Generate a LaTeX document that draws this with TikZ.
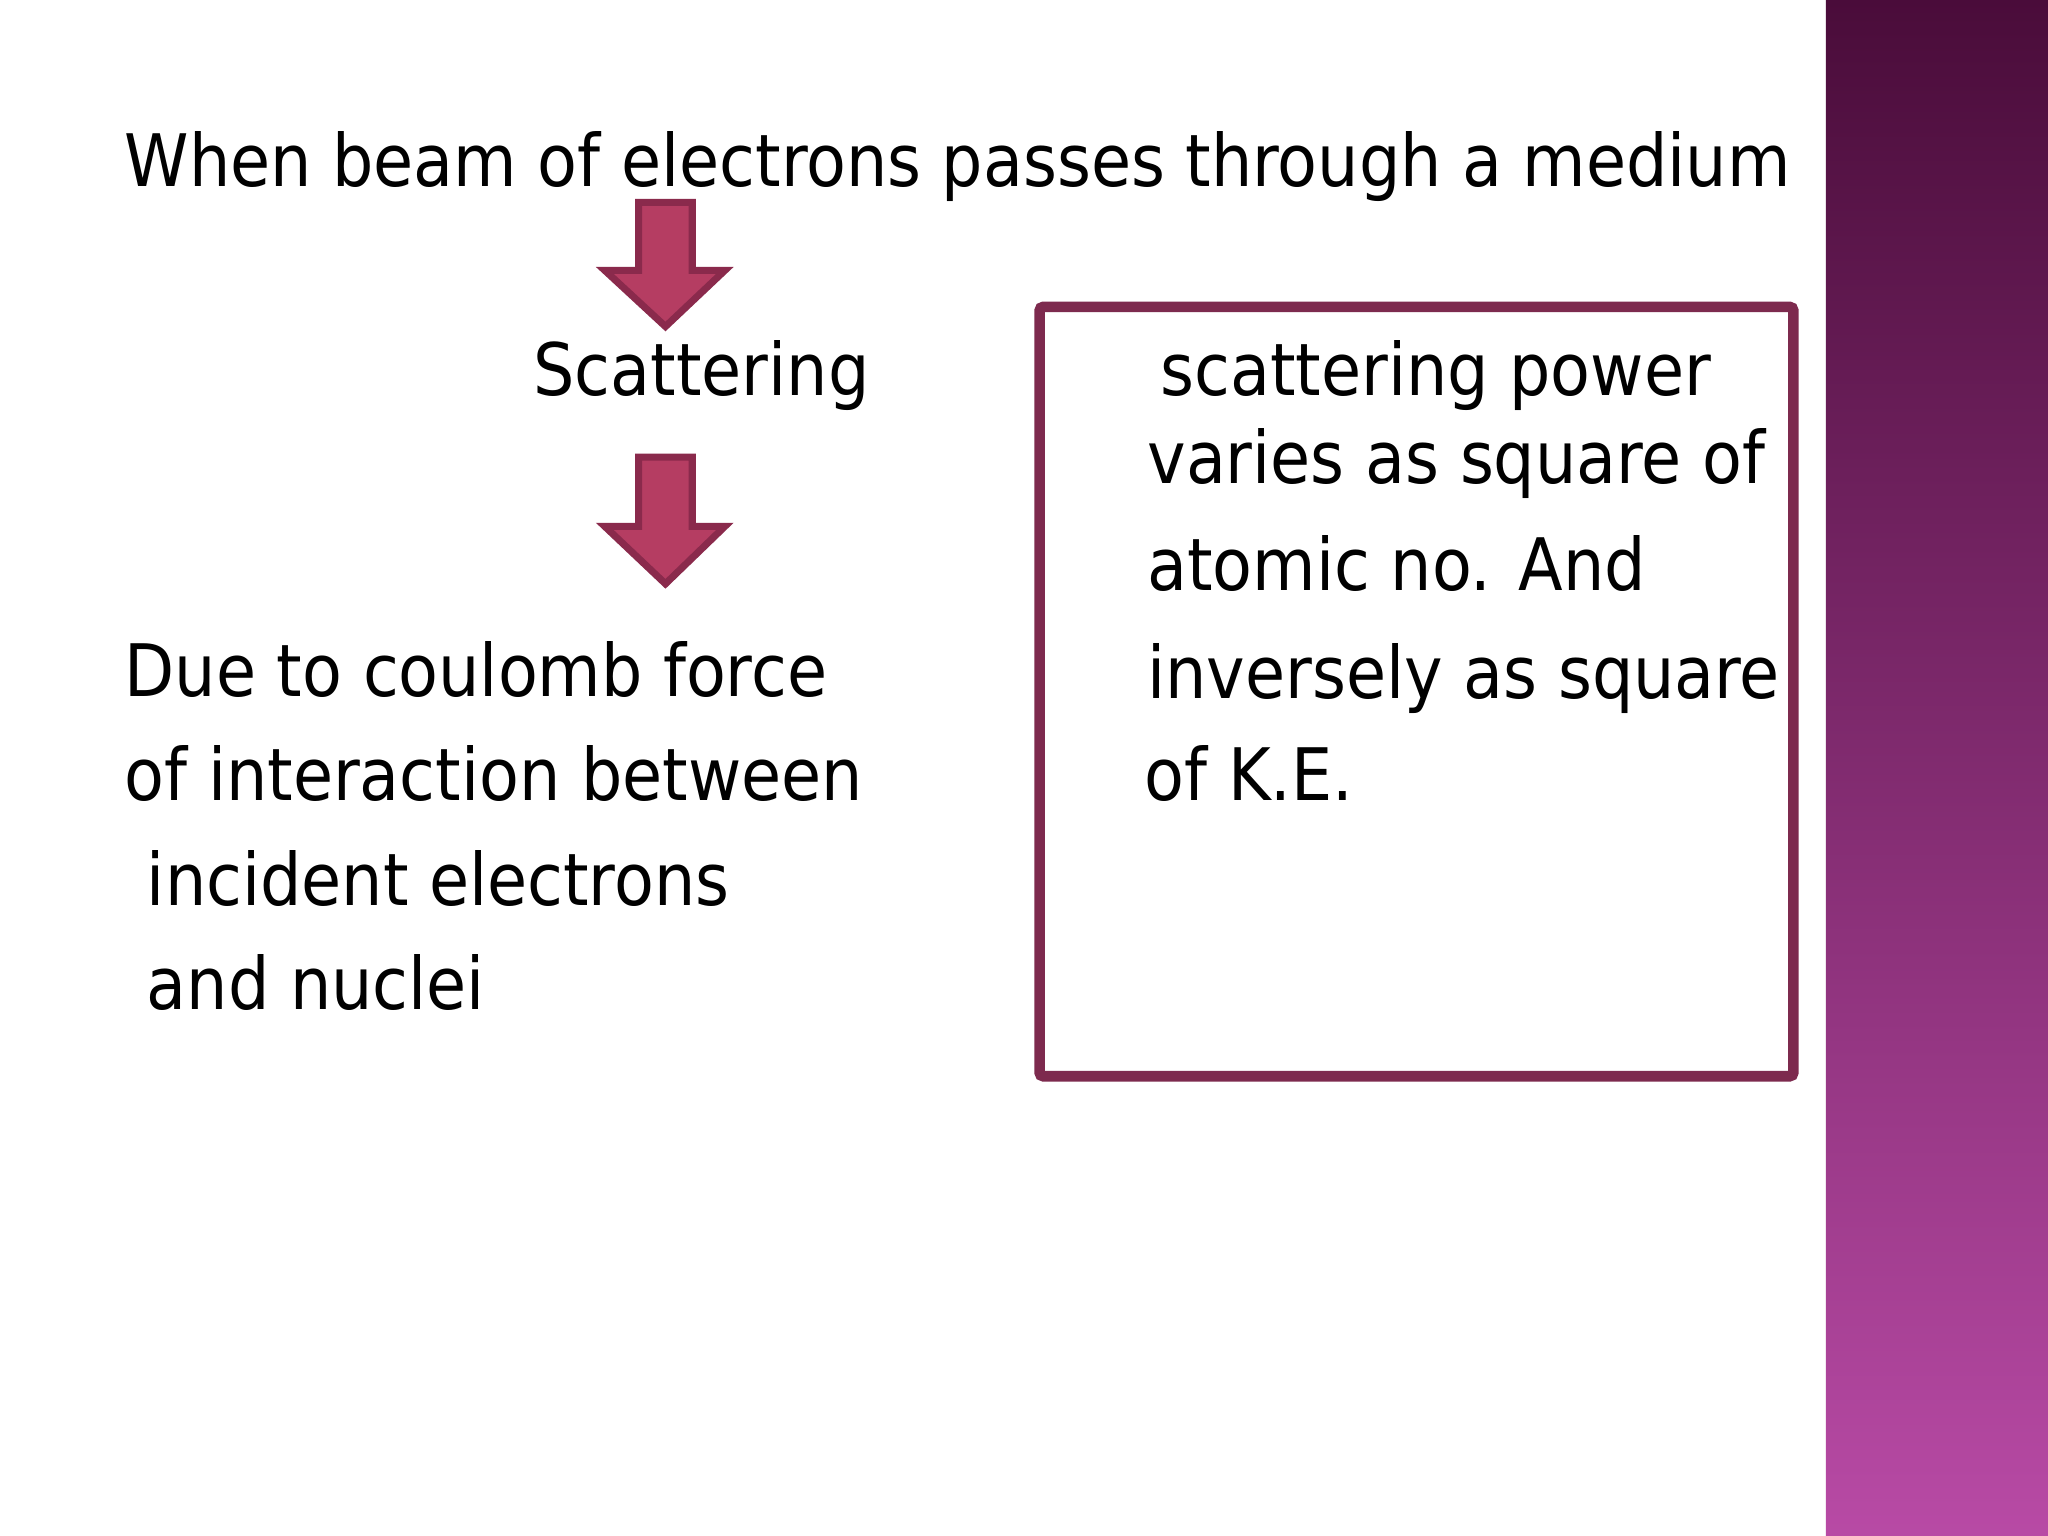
\documentclass[tikz,border=0pt]{standalone}
\usepackage{fontspec}
\setmainfont{DejaVu Sans Condensed}
\definecolor{arrfill}{HTML}{B53D62}
\definecolor{arrdraw}{HTML}{8A2A4C}
\definecolor{boxc}{HTML}{7D2A4E}
\definecolor{bartop}{HTML}{4A0C3A}
\definecolor{barbot}{HTML}{B84AA5}
\tikzset{txt/.style={anchor=base west,inner sep=0pt,font=\fontsize{20.6}{25}\selectfont},
 bigarrow/.style={fill=arrfill,draw=arrdraw,line width=2pt,line join=miter}}
\begin{document}
\begin{tikzpicture}[x=0.01306cm,y=-0.01306cm]
\useasboundingbox (0,0) rectangle (1568,1176);
\fill[white] (0,0) rectangle (1568,1176);
\shade[top color=bartop,bottom color=barbot] (1398,0) rectangle (1568,1176);
\node[txt] (title) at (95,143) {When beam of electrons passes through a medium};
\node[txt] (scat) at (408,303) {Scattering};
\node[txt] (d1) at (95,533) {Due to coulomb force};
\node[txt] (d2) at (95,613) {of interaction between};
\node[txt] (d3) at (112,693) {incident electrons};
\node[txt] (d4) at (112,773) {and nuclei};
\draw[bigarrow] (489,155) -- (530,155) -- (530,207) -- (555,207) -- (509.5,250) -- (463,207) -- (489,207) -- cycle;
\draw[bigarrow] (489,350) -- (530,350) -- (530,403) -- (555,403) -- (509.5,447) -- (463,403) -- (489,403) -- cycle;
\draw[boxc,line width=3pt,rounded corners=1pt] (796,235) rectangle (1373,824);
\node[txt] (b1) at (888,303) {scattering power};
\node[txt] (b2) at (878,370) {varies as square of};
\node[txt] (b3) at (878,452) {atomic no. And};
\node[txt] (b4) at (878,535) {inversely as square};
\node[txt] (b5) at (876,613) {of K.E.};
\end{tikzpicture}
\end{document}
